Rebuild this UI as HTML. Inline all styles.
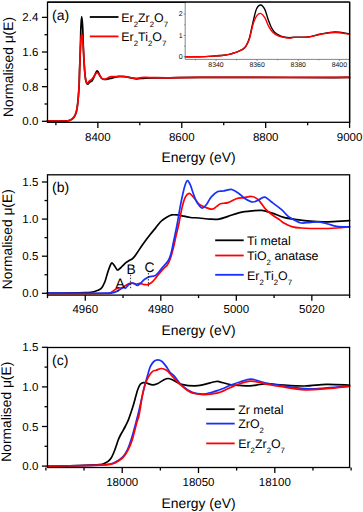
<!DOCTYPE html><html><head><meta charset="utf-8"><style>html,body{margin:0;padding:0;background:#fff;}svg{display:block;text-rendering:geometricPrecision;}</style></head><body>
<svg width="363" height="512" viewBox="0 0 363 512" font-family='"Liberation Sans", sans-serif' fill="#000">
<rect width="363" height="512" fill="#fff"/>
<line x1="41.90" y1="121.30" x2="47.50" y2="121.30" stroke="#000" stroke-width="1.3"/>
<line x1="41.90" y1="86.66" x2="47.50" y2="86.66" stroke="#000" stroke-width="1.3"/>
<line x1="41.90" y1="52.02" x2="47.50" y2="52.02" stroke="#000" stroke-width="1.3"/>
<line x1="41.90" y1="17.38" x2="47.50" y2="17.38" stroke="#000" stroke-width="1.3"/>
<line x1="44.50" y1="103.98" x2="47.50" y2="103.98" stroke="#000" stroke-width="1.3"/>
<line x1="44.50" y1="69.34" x2="47.50" y2="69.34" stroke="#000" stroke-width="1.3"/>
<line x1="44.50" y1="34.70" x2="47.50" y2="34.70" stroke="#000" stroke-width="1.3"/>
<line x1="97.85" y1="122.30" x2="97.85" y2="127.90" stroke="#000" stroke-width="1.3"/>
<line x1="181.77" y1="122.30" x2="181.77" y2="127.90" stroke="#000" stroke-width="1.3"/>
<line x1="265.68" y1="122.30" x2="265.68" y2="127.90" stroke="#000" stroke-width="1.3"/>
<line x1="349.60" y1="122.30" x2="349.60" y2="127.90" stroke="#000" stroke-width="1.3"/>
<line x1="55.89" y1="122.30" x2="55.89" y2="125.30" stroke="#000" stroke-width="1.3"/>
<line x1="139.81" y1="122.30" x2="139.81" y2="125.30" stroke="#000" stroke-width="1.3"/>
<line x1="223.73" y1="122.30" x2="223.73" y2="125.30" stroke="#000" stroke-width="1.3"/>
<line x1="307.64" y1="122.30" x2="307.64" y2="125.30" stroke="#000" stroke-width="1.3"/>
<text x="38.3" y="125.30" text-anchor="end" font-size="11.5">0.0</text>
<text x="38.3" y="90.66" text-anchor="end" font-size="11.5">0.8</text>
<text x="38.3" y="56.02" text-anchor="end" font-size="11.5">1.6</text>
<text x="38.3" y="21.38" text-anchor="end" font-size="11.5">2.4</text>
<text x="97.85" y="140.50" text-anchor="middle" font-size="11.5">8400</text>
<text x="181.77" y="140.50" text-anchor="middle" font-size="11.5">8600</text>
<text x="265.68" y="140.50" text-anchor="middle" font-size="11.5">8800</text>
<text x="349.60" y="140.50" text-anchor="middle" font-size="11.5">9000</text>
<text x="198.55" y="162.30" text-anchor="middle" font-size="13.9">Energy (eV)</text>
<text transform="translate(13.20,67.00) rotate(-90)" text-anchor="middle" font-size="13.8">Normalised μ(E)</text>
<text x="52.0" y="19.80" font-size="14">(a)</text>
<path d="M47.30,121.00 C50.47,121.00 62.22,121.30 66.30,121.00 C70.38,120.70 70.32,120.18 71.80,119.20 C73.28,118.22 74.28,117.17 75.20,115.10 C76.12,113.03 76.67,111.40 77.30,106.80 C77.93,102.20 78.62,93.63 79.00,87.50 C79.38,81.37 79.38,76.08 79.60,70.00 C79.82,63.92 80.08,58.07 80.30,51.00 C80.52,43.93 80.67,33.33 80.90,27.60 C81.13,21.87 81.40,16.60 81.70,16.60 C82.00,16.60 82.40,21.87 82.70,27.60 C83.00,33.33 83.18,43.93 83.50,51.00 C83.82,58.07 84.22,65.08 84.60,70.00 C84.98,74.92 85.30,78.13 85.80,80.50 C86.30,82.87 86.93,83.95 87.60,84.20 C88.27,84.45 89.07,82.53 89.80,82.00 C90.53,81.47 91.30,81.83 92.00,81.00 C92.70,80.17 93.15,78.70 94.00,77.00 C94.85,75.30 96.13,71.05 97.10,70.80 C98.07,70.55 99.02,74.22 99.80,75.50 C100.58,76.78 101.10,77.83 101.80,78.50 C102.50,79.17 103.13,79.38 104.00,79.50 C104.87,79.62 105.83,79.40 107.00,79.20 C108.17,79.00 109.03,78.78 111.00,78.30 C112.97,77.82 116.30,76.55 118.80,76.30 C121.30,76.05 123.97,76.55 126.00,76.80 C128.03,77.05 129.22,77.47 131.00,77.80 C132.78,78.13 134.37,78.75 136.70,78.80 C139.03,78.85 141.95,78.27 145.00,78.10 C148.05,77.93 150.83,77.85 155.00,77.80 C159.17,77.75 162.50,77.87 170.00,77.80 C177.50,77.73 185.00,77.47 200.00,77.40 C215.00,77.33 238.33,77.37 260.00,77.40 C281.67,77.43 315.07,77.60 330.00,77.60 C344.93,77.60 346.33,77.43 349.60,77.40" fill="none" stroke="#000000" stroke-width="1.7" stroke-linejoin="round" stroke-linecap="round"/>
<path d="M47.30,121.00 C50.47,121.00 62.22,121.30 66.30,121.00 C70.38,120.70 70.32,120.18 71.80,119.20 C73.28,118.22 74.28,117.17 75.20,115.10 C76.12,113.03 76.67,111.40 77.30,106.80 C77.93,102.20 78.62,93.63 79.00,87.50 C79.38,81.37 79.38,76.08 79.60,70.00 C79.82,63.92 80.07,56.33 80.30,51.00 C80.53,45.67 80.77,40.83 81.00,38.00 C81.23,35.17 81.45,34.00 81.70,34.00 C81.95,34.00 82.20,35.17 82.50,38.00 C82.80,40.83 83.15,45.67 83.50,51.00 C83.85,56.33 84.25,65.33 84.60,70.00 C84.95,74.67 85.17,76.75 85.60,79.00 C86.03,81.25 86.60,83.13 87.20,83.50 C87.80,83.87 88.57,81.82 89.20,81.20 C89.83,80.58 90.45,80.23 91.00,79.80 C91.55,79.37 91.92,79.32 92.50,78.60 C93.08,77.88 93.75,76.50 94.50,75.50 C95.25,74.50 96.17,72.65 97.00,72.60 C97.83,72.55 98.75,74.30 99.50,75.20 C100.25,76.10 100.80,77.33 101.50,78.00 C102.20,78.67 102.87,79.10 103.70,79.20 C104.53,79.30 105.62,78.92 106.50,78.60 C107.38,78.28 108.22,77.62 109.00,77.30 C109.78,76.98 109.70,76.80 111.20,76.70 C112.70,76.60 115.82,76.70 118.00,76.70 C120.18,76.70 122.30,76.55 124.30,76.70 C126.30,76.85 128.17,77.32 130.00,77.60 C131.83,77.88 133.63,78.37 135.30,78.40 C136.97,78.43 138.38,77.97 140.00,77.80 C141.62,77.63 142.50,77.42 145.00,77.40 C147.50,77.38 150.83,77.63 155.00,77.70 C159.17,77.77 162.50,77.85 170.00,77.80 C177.50,77.75 185.00,77.47 200.00,77.40 C215.00,77.33 235.07,77.40 260.00,77.40 C284.93,77.40 334.67,77.40 349.60,77.40" fill="none" stroke="#ff0000" stroke-width="1.7" stroke-linejoin="round" stroke-linecap="round"/>
<rect x="47.50" y="2.20" width="302.10" height="120.10" fill="none" stroke="#000" stroke-width="1.3"/>
<line x1="89.8" y1="17" x2="118.5" y2="17" stroke="#000" stroke-width="1.8"/>
<line x1="89.8" y1="36.4" x2="118.5" y2="36.4" stroke="#ff0000" stroke-width="1.8"/>
<text x="121.3" y="21.5" font-size="12.4"><tspan dy="0">Er</tspan><tspan font-size="7.8" dy="5.0">2</tspan><tspan dy="-5.0">Zr</tspan><tspan font-size="7.8" dy="5.0">2</tspan><tspan dy="-5.0">O</tspan><tspan font-size="7.8" dy="5.0">7</tspan></text>
<text x="121.3" y="40.8" font-size="12.4"><tspan dy="0">Er</tspan><tspan font-size="7.8" dy="5.0">2</tspan><tspan dy="-5.0">Ti</tspan><tspan font-size="7.8" dy="5.0">2</tspan><tspan dy="-5.0">O</tspan><tspan font-size="7.8" dy="5.0">7</tspan></text>
<rect x="185.2" y="2.2" width="164.40000000000003" height="57.199999999999996" fill="#fff" stroke="none"/>
<line x1="183.7" y1="56.90" x2="185.2" y2="56.90" stroke="#555" stroke-width="0.7"/>
<text x="182.6" y="59.20" text-anchor="end" font-size="7.0" fill="#111">0</text>
<line x1="183.7" y1="35.50" x2="185.2" y2="35.50" stroke="#555" stroke-width="0.7"/>
<text x="182.6" y="37.80" text-anchor="end" font-size="7.0" fill="#111">1</text>
<line x1="183.7" y1="14.10" x2="185.2" y2="14.10" stroke="#555" stroke-width="0.7"/>
<text x="182.6" y="16.40" text-anchor="end" font-size="7.0" fill="#111">2</text>
<line x1="184.2" y1="46.20" x2="185.2" y2="46.20" stroke="#555" stroke-width="0.7"/>
<line x1="184.2" y1="24.80" x2="185.2" y2="24.80" stroke="#555" stroke-width="0.7"/>
<line x1="216.03" y1="59.4" x2="216.03" y2="60.9" stroke="#555" stroke-width="0.7"/>
<text x="216.03" y="67.00" text-anchor="middle" font-size="6.9" fill="#111">8340</text>
<line x1="257.12" y1="59.4" x2="257.12" y2="60.9" stroke="#555" stroke-width="0.7"/>
<text x="257.12" y="67.00" text-anchor="middle" font-size="6.9" fill="#111">8360</text>
<line x1="298.23" y1="59.4" x2="298.23" y2="60.9" stroke="#555" stroke-width="0.7"/>
<text x="298.23" y="67.00" text-anchor="middle" font-size="6.9" fill="#111">8380</text>
<line x1="339.33" y1="59.4" x2="339.33" y2="60.9" stroke="#555" stroke-width="0.7"/>
<text x="339.33" y="67.00" text-anchor="middle" font-size="6.9" fill="#111">8400</text>
<line x1="195.47" y1="59.4" x2="195.47" y2="60.4" stroke="#555" stroke-width="0.7"/>
<line x1="236.57" y1="59.4" x2="236.57" y2="60.4" stroke="#555" stroke-width="0.7"/>
<line x1="277.68" y1="59.4" x2="277.68" y2="60.4" stroke="#555" stroke-width="0.7"/>
<line x1="318.77" y1="59.4" x2="318.77" y2="60.4" stroke="#555" stroke-width="0.7"/>
<path d="M185.50,56.80 C187.72,56.78 194.30,56.82 198.80,56.70 C203.30,56.58 208.37,56.33 212.50,56.10 C216.63,55.87 220.60,55.65 223.60,55.30 C226.60,54.95 228.60,54.45 230.50,54.00 C232.40,53.55 233.50,53.13 235.00,52.60 C236.50,52.07 238.12,51.42 239.50,50.80 C240.88,50.18 242.18,49.77 243.30,48.90 C244.42,48.03 245.20,47.33 246.20,45.60 C247.20,43.87 248.42,41.27 249.30,38.50 C250.18,35.73 250.75,32.30 251.50,29.00 C252.25,25.70 252.95,22.07 253.80,18.70 C254.65,15.33 255.47,11.08 256.60,8.80 C257.73,6.52 259.23,4.90 260.60,5.00 C261.97,5.10 263.55,7.02 264.80,9.40 C266.05,11.78 267.00,16.28 268.10,19.30 C269.20,22.32 270.28,25.30 271.40,27.50 C272.52,29.70 273.32,31.12 274.80,32.50 C276.28,33.88 278.60,35.00 280.30,35.80 C282.00,36.60 283.38,36.98 285.00,37.30 C286.62,37.62 288.50,37.72 290.00,37.70 C291.50,37.68 290.95,37.32 294.00,37.20 C297.05,37.08 303.83,37.53 308.30,37.00 C312.77,36.47 316.33,34.83 320.80,34.00 C325.27,33.17 330.33,32.03 335.10,32.00 C339.87,31.97 347.02,33.50 349.40,33.80" fill="none" stroke="#000000" stroke-width="1.4" stroke-linejoin="round" stroke-linecap="round"/>
<path d="M185.50,56.80 C187.72,56.78 194.30,56.82 198.80,56.70 C203.30,56.58 208.37,56.33 212.50,56.10 C216.63,55.87 220.60,55.65 223.60,55.30 C226.60,54.95 228.60,54.45 230.50,54.00 C232.40,53.55 233.50,53.13 235.00,52.60 C236.50,52.07 238.12,51.42 239.50,50.80 C240.88,50.18 242.18,49.77 243.30,48.90 C244.42,48.03 245.18,47.23 246.20,45.60 C247.22,43.97 248.50,41.70 249.40,39.10 C250.30,36.50 250.87,32.85 251.60,30.00 C252.33,27.15 252.88,24.43 253.80,22.00 C254.72,19.57 255.97,16.83 257.10,15.40 C258.23,13.97 259.32,13.03 260.60,13.40 C261.88,13.77 263.45,15.43 264.80,17.60 C266.15,19.77 267.42,24.00 268.70,26.40 C269.98,28.80 270.93,30.43 272.50,32.00 C274.07,33.57 276.02,34.88 278.10,35.80 C280.18,36.72 283.02,37.12 285.00,37.50 C286.98,37.88 288.50,38.12 290.00,38.10 C291.50,38.08 290.95,37.58 294.00,37.40 C297.05,37.22 303.83,37.52 308.30,37.00 C312.77,36.48 316.33,35.05 320.80,34.30 C325.27,33.55 330.33,32.50 335.10,32.50 C339.87,32.50 347.02,34.00 349.40,34.30" fill="none" stroke="#ff0000" stroke-width="1.4" stroke-linejoin="round" stroke-linecap="round"/>
<line x1="185.2" y1="2.2" x2="185.2" y2="59.4" stroke="#666" stroke-width="0.8"/>
<line x1="185.2" y1="59.4" x2="349.6" y2="59.4" stroke="#666" stroke-width="0.8"/>
<line x1="47.5" y1="2.2" x2="349.6" y2="2.2" stroke="#000" stroke-width="1.3"/>
<line x1="349.6" y1="2.2" x2="349.6" y2="122.3" stroke="#000" stroke-width="1.3"/>
<line x1="41.90" y1="293.30" x2="47.50" y2="293.30" stroke="#000" stroke-width="1.3"/>
<line x1="41.90" y1="256.20" x2="47.50" y2="256.20" stroke="#000" stroke-width="1.3"/>
<line x1="41.90" y1="219.10" x2="47.50" y2="219.10" stroke="#000" stroke-width="1.3"/>
<line x1="41.90" y1="182.00" x2="47.50" y2="182.00" stroke="#000" stroke-width="1.3"/>
<line x1="44.50" y1="274.75" x2="47.50" y2="274.75" stroke="#000" stroke-width="1.3"/>
<line x1="44.50" y1="237.65" x2="47.50" y2="237.65" stroke="#000" stroke-width="1.3"/>
<line x1="44.50" y1="200.55" x2="47.50" y2="200.55" stroke="#000" stroke-width="1.3"/>
<line x1="85.26" y1="295.10" x2="85.26" y2="300.70" stroke="#000" stroke-width="1.3"/>
<line x1="160.79" y1="295.10" x2="160.79" y2="300.70" stroke="#000" stroke-width="1.3"/>
<line x1="236.31" y1="295.10" x2="236.31" y2="300.70" stroke="#000" stroke-width="1.3"/>
<line x1="311.84" y1="295.10" x2="311.84" y2="300.70" stroke="#000" stroke-width="1.3"/>
<line x1="47.50" y1="295.10" x2="47.50" y2="298.10" stroke="#000" stroke-width="1.3"/>
<line x1="123.03" y1="295.10" x2="123.03" y2="298.10" stroke="#000" stroke-width="1.3"/>
<line x1="198.55" y1="295.10" x2="198.55" y2="298.10" stroke="#000" stroke-width="1.3"/>
<line x1="274.07" y1="295.10" x2="274.07" y2="298.10" stroke="#000" stroke-width="1.3"/>
<line x1="349.60" y1="295.10" x2="349.60" y2="298.10" stroke="#000" stroke-width="1.3"/>
<text x="38.3" y="297.30" text-anchor="end" font-size="11.5">0.0</text>
<text x="38.3" y="260.20" text-anchor="end" font-size="11.5">0.5</text>
<text x="38.3" y="223.10" text-anchor="end" font-size="11.5">1.0</text>
<text x="38.3" y="186.00" text-anchor="end" font-size="11.5">1.5</text>
<text x="85.26" y="313.30" text-anchor="middle" font-size="11.5">4960</text>
<text x="160.79" y="313.30" text-anchor="middle" font-size="11.5">4980</text>
<text x="236.31" y="313.30" text-anchor="middle" font-size="11.5">5000</text>
<text x="311.84" y="313.30" text-anchor="middle" font-size="11.5">5020</text>
<text x="198.55" y="335.10" text-anchor="middle" font-size="13.9">Energy (eV)</text>
<text transform="translate(12.40,239.25) rotate(-90)" text-anchor="middle" font-size="13.8">Normalised μ(E)</text>
<text x="52.0" y="192.40" font-size="14">(b)</text>
<path d="M47.30,293.20 C53.68,293.10 77.62,292.92 85.60,292.60 C93.58,292.28 92.63,291.95 95.20,291.30 C97.77,290.65 99.40,290.25 101.00,288.70 C102.60,287.15 103.68,284.72 104.80,282.00 C105.92,279.28 106.73,275.30 107.70,272.40 C108.67,269.50 109.85,266.17 110.60,264.60 C111.35,263.03 111.55,262.80 112.20,263.00 C112.85,263.20 113.67,264.65 114.50,265.80 C115.33,266.95 116.37,269.40 117.20,269.90 C118.03,270.40 118.70,269.37 119.50,268.80 C120.30,268.23 120.88,267.57 122.00,266.50 C123.12,265.43 124.93,263.43 126.20,262.40 C127.47,261.37 128.45,261.00 129.60,260.30 C130.75,259.60 131.83,259.47 133.10,258.20 C134.37,256.93 135.60,254.98 137.20,252.70 C138.80,250.42 140.57,247.48 142.70,244.50 C144.83,241.52 147.90,237.48 150.00,234.80 C152.10,232.12 153.50,230.62 155.30,228.40 C157.10,226.18 158.97,223.33 160.80,221.50 C162.63,219.67 164.47,218.50 166.30,217.40 C168.13,216.30 169.90,215.30 171.80,214.90 C173.70,214.50 175.67,214.78 177.70,215.00 C179.73,215.22 181.88,215.78 184.00,216.20 C186.12,216.62 187.90,217.20 190.40,217.50 C192.90,217.80 195.73,217.73 199.00,218.00 C202.27,218.27 206.68,218.92 210.00,219.10 C213.32,219.28 215.90,219.55 218.90,219.10 C221.90,218.65 224.55,217.48 228.00,216.40 C231.45,215.32 235.45,213.53 239.60,212.60 C243.75,211.67 249.22,211.17 252.90,210.80 C256.58,210.43 258.77,210.10 261.70,210.40 C264.63,210.70 268.28,211.98 270.50,212.60 C272.72,213.22 272.78,213.30 275.00,214.10 C277.22,214.90 280.13,216.48 283.80,217.40 C287.47,218.32 292.60,218.97 297.00,219.60 C301.40,220.23 305.78,220.82 310.20,221.20 C314.62,221.58 319.08,221.87 323.50,221.90 C327.92,221.93 332.35,221.60 336.70,221.40 C341.05,221.20 347.45,220.82 349.60,220.70" fill="none" stroke="#000000" stroke-width="1.7" stroke-linejoin="round" stroke-linecap="round"/>
<path d="M47.50,293.70 C57.08,293.67 94.32,293.77 105.00,293.50 C115.68,293.23 109.95,292.75 111.60,292.10 C113.25,291.45 113.80,290.30 114.90,289.60 C116.00,288.90 117.10,288.18 118.20,287.90 C119.30,287.62 120.25,288.30 121.50,287.90 C122.75,287.50 124.32,286.27 125.70,285.50 C127.08,284.73 128.57,283.67 129.80,283.30 C131.03,282.93 132.00,283.13 133.10,283.30 C134.20,283.47 135.30,284.30 136.40,284.30 C137.50,284.30 138.32,283.25 139.70,283.30 C141.08,283.35 143.23,284.42 144.70,284.60 C146.17,284.78 147.13,284.95 148.50,284.40 C149.87,283.85 151.53,282.60 152.90,281.30 C154.27,280.00 155.08,278.55 156.70,276.60 C158.32,274.65 160.83,271.55 162.60,269.60 C164.37,267.65 166.03,266.67 167.30,264.90 C168.57,263.13 169.22,261.73 170.20,259.00 C171.18,256.27 172.22,252.40 173.20,248.50 C174.18,244.60 175.13,239.82 176.10,235.60 C177.07,231.38 178.00,227.90 179.00,223.20 C180.00,218.50 181.05,211.73 182.10,207.40 C183.15,203.07 184.13,199.53 185.30,197.20 C186.47,194.87 187.93,193.62 189.10,193.40 C190.27,193.18 191.23,194.85 192.30,195.90 C193.37,196.95 194.38,198.32 195.50,199.70 C196.62,201.08 197.50,202.98 199.00,204.20 C200.50,205.42 202.30,206.17 204.50,207.00 C206.70,207.83 210.17,209.30 212.20,209.20 C214.23,209.10 215.32,207.32 216.70,206.40 C218.08,205.48 218.62,204.33 220.50,203.70 C222.38,203.07 225.37,203.43 228.00,202.60 C230.63,201.77 233.62,199.53 236.30,198.70 C238.98,197.87 241.52,197.97 244.10,197.60 C246.68,197.23 249.42,196.13 251.80,196.50 C254.18,196.87 256.02,197.60 258.40,199.80 C260.78,202.00 263.72,207.13 266.10,209.70 C268.48,212.27 270.38,213.47 272.70,215.20 C275.02,216.93 278.15,218.80 280.00,220.10 C281.85,221.40 281.70,221.87 283.80,223.00 C285.90,224.13 289.67,226.07 292.60,226.90 C295.53,227.73 296.98,227.73 301.40,228.00 C305.82,228.27 313.22,228.50 319.10,228.50 C324.98,228.50 331.62,228.30 336.70,228.00 C341.78,227.70 347.45,226.92 349.60,226.70" fill="none" stroke="#ff0000" stroke-width="1.7" stroke-linejoin="round" stroke-linecap="round"/>
<path d="M47.50,293.10 C57.08,293.12 93.77,293.37 105.00,293.20 C116.23,293.03 112.42,292.70 114.90,292.10 C117.38,291.50 118.52,290.35 119.90,289.60 C121.28,288.85 122.23,287.88 123.20,287.60 C124.17,287.32 124.60,288.53 125.70,287.90 C126.80,287.27 128.43,284.57 129.80,283.80 C131.17,283.03 132.67,283.02 133.90,283.30 C135.13,283.58 136.10,285.50 137.20,285.50 C138.30,285.50 139.25,284.33 140.50,283.30 C141.75,282.27 143.17,280.42 144.70,279.30 C146.23,278.18 147.88,277.25 149.70,276.60 C151.52,275.95 153.45,276.97 155.60,275.40 C157.75,273.83 160.45,269.73 162.60,267.20 C164.75,264.67 167.03,262.73 168.50,260.20 C169.97,257.67 170.50,255.37 171.40,252.00 C172.30,248.63 172.95,244.58 173.90,240.00 C174.85,235.42 176.05,230.05 177.10,224.50 C178.15,218.95 179.25,211.78 180.20,206.70 C181.15,201.62 181.95,197.70 182.80,194.00 C183.65,190.30 184.50,186.72 185.30,184.50 C186.10,182.28 186.75,180.58 187.60,180.70 C188.45,180.82 189.60,183.48 190.40,185.20 C191.20,186.92 191.52,188.57 192.40,191.00 C193.28,193.43 194.60,197.42 195.70,199.80 C196.80,202.18 197.90,203.92 199.00,205.30 C200.10,206.68 201.02,208.28 202.30,208.10 C203.58,207.92 205.23,206.03 206.70,204.20 C208.17,202.37 209.25,199.20 211.10,197.10 C212.95,195.00 215.77,192.62 217.80,191.60 C219.83,190.58 221.60,191.28 223.30,191.00 C225.00,190.72 226.57,190.15 228.00,189.90 C229.43,189.65 230.15,188.95 231.90,189.50 C233.65,190.05 236.28,191.67 238.50,193.20 C240.72,194.73 242.80,197.23 245.20,198.70 C247.60,200.17 250.52,201.88 252.90,202.00 C255.28,202.12 257.48,200.20 259.50,199.40 C261.52,198.60 262.98,196.77 265.00,197.20 C267.02,197.63 268.83,199.92 271.60,202.00 C274.37,204.08 278.83,207.32 281.60,209.70 C284.37,212.08 286.00,214.53 288.20,216.30 C290.40,218.07 292.60,219.18 294.80,220.30 C297.00,221.42 298.83,222.67 301.40,223.00 C303.97,223.33 307.25,222.48 310.20,222.30 C313.15,222.12 316.15,221.62 319.10,221.90 C322.05,222.18 324.97,223.27 327.90,224.00 C330.83,224.73 333.08,225.82 336.70,226.30 C340.32,226.78 347.45,226.80 349.60,226.90" fill="none" stroke="#1530ff" stroke-width="1.7" stroke-linejoin="round" stroke-linecap="round"/>
<rect x="47.50" y="174.80" width="302.10" height="120.30" fill="none" stroke="#000" stroke-width="1.3"/>
<line x1="118.2" y1="287" x2="118.2" y2="293" stroke="#000" stroke-width="0.8" stroke-dasharray="1.5,1.5"/>
<line x1="130.6" y1="274.7" x2="130.6" y2="289.6" stroke="#000" stroke-width="0.8" stroke-dasharray="1.5,1.5"/>
<line x1="148.4" y1="273" x2="148.4" y2="288" stroke="#000" stroke-width="0.8" stroke-dasharray="1.5,1.5"/>
<text x="120.0" y="287.5" text-anchor="middle" font-size="13.8">A</text>
<text x="131.2" y="274.4" text-anchor="middle" font-size="13.8">B</text>
<text x="149.5" y="271.9" text-anchor="middle" font-size="13.8">C</text>
<line x1="215.2" y1="240.3" x2="243.7" y2="240.3" stroke="#000000" stroke-width="1.8"/>
<line x1="215.2" y1="255.5" x2="243.7" y2="255.5" stroke="#ff0000" stroke-width="1.8"/>
<line x1="215.2" y1="274.8" x2="243.7" y2="274.8" stroke="#1530ff" stroke-width="1.8"/>
<text x="247.1" y="244.9" font-size="12.4">Ti metal</text>
<text x="247.1" y="260.2" font-size="12.4">TiO<tspan font-size="7.8" dy="5.0">2</tspan><tspan dy="-5.0"> anatase</tspan></text>
<text x="247.1" y="280.0" font-size="12.4"><tspan dy="0">Er</tspan><tspan font-size="7.8" dy="5.0">2</tspan><tspan dy="-5.0">Ti</tspan><tspan font-size="7.8" dy="5.0">2</tspan><tspan dy="-5.0">O</tspan><tspan font-size="7.8" dy="5.0">7</tspan></text>
<line x1="41.90" y1="466.10" x2="47.50" y2="466.10" stroke="#000" stroke-width="1.3"/>
<line x1="41.90" y1="426.50" x2="47.50" y2="426.50" stroke="#000" stroke-width="1.3"/>
<line x1="41.90" y1="386.90" x2="47.50" y2="386.90" stroke="#000" stroke-width="1.3"/>
<line x1="41.90" y1="347.30" x2="47.50" y2="347.30" stroke="#000" stroke-width="1.3"/>
<line x1="44.50" y1="446.30" x2="47.50" y2="446.30" stroke="#000" stroke-width="1.3"/>
<line x1="44.50" y1="406.70" x2="47.50" y2="406.70" stroke="#000" stroke-width="1.3"/>
<line x1="44.50" y1="367.10" x2="47.50" y2="367.10" stroke="#000" stroke-width="1.3"/>
<line x1="122.20" y1="467.50" x2="122.20" y2="473.10" stroke="#000" stroke-width="1.3"/>
<line x1="198.50" y1="467.50" x2="198.50" y2="473.10" stroke="#000" stroke-width="1.3"/>
<line x1="274.80" y1="467.50" x2="274.80" y2="473.10" stroke="#000" stroke-width="1.3"/>
<line x1="45.90" y1="467.50" x2="45.90" y2="470.50" stroke="#000" stroke-width="1.3"/>
<line x1="84.05" y1="467.50" x2="84.05" y2="470.50" stroke="#000" stroke-width="1.3"/>
<line x1="160.35" y1="467.50" x2="160.35" y2="470.50" stroke="#000" stroke-width="1.3"/>
<line x1="236.65" y1="467.50" x2="236.65" y2="470.50" stroke="#000" stroke-width="1.3"/>
<line x1="312.95" y1="467.50" x2="312.95" y2="470.50" stroke="#000" stroke-width="1.3"/>
<line x1="351.10" y1="467.50" x2="351.10" y2="470.50" stroke="#000" stroke-width="1.3"/>
<text x="38.3" y="470.10" text-anchor="end" font-size="11.5">0.0</text>
<text x="38.3" y="430.50" text-anchor="end" font-size="11.5">0.5</text>
<text x="38.3" y="390.90" text-anchor="end" font-size="11.5">1.0</text>
<text x="38.3" y="351.30" text-anchor="end" font-size="11.5">1.5</text>
<text x="122.20" y="485.70" text-anchor="middle" font-size="11.5">18000</text>
<text x="198.50" y="485.70" text-anchor="middle" font-size="11.5">18050</text>
<text x="274.80" y="485.70" text-anchor="middle" font-size="11.5">18100</text>
<text x="198.55" y="507.50" text-anchor="middle" font-size="13.9">Energy (eV)</text>
<text transform="translate(10.90,411.75) rotate(-90)" text-anchor="middle" font-size="13.8">Normalised μ(E)</text>
<text x="52.0" y="365.10" font-size="14">(c)</text>
<path d="M47.30,466.30 C51.08,466.22 62.05,466.03 70.00,465.80 C77.95,465.57 89.65,465.15 95.00,464.90 C100.35,464.65 100.27,464.68 102.10,464.30 C103.93,463.92 105.02,463.08 106.00,462.60 C106.98,462.12 107.17,462.12 108.00,461.40 C108.83,460.68 110.07,459.70 111.00,458.30 C111.93,456.90 112.77,454.97 113.60,453.00 C114.43,451.03 115.23,448.67 116.00,446.50 C116.77,444.33 117.45,441.92 118.20,440.00 C118.95,438.08 119.72,436.53 120.50,435.00 C121.28,433.47 122.07,432.30 122.90,430.80 C123.73,429.30 124.57,427.87 125.50,426.00 C126.43,424.13 127.53,422.02 128.50,419.60 C129.47,417.18 130.38,414.28 131.30,411.50 C132.22,408.72 133.22,405.57 134.00,402.90 C134.78,400.23 135.37,397.73 136.00,395.50 C136.63,393.27 137.08,391.37 137.80,389.50 C138.52,387.63 139.40,385.45 140.30,384.30 C141.20,383.15 142.12,382.78 143.20,382.60 C144.28,382.42 145.23,382.82 146.80,383.20 C148.37,383.58 150.85,384.82 152.60,384.90 C154.35,384.98 155.53,384.48 157.30,383.70 C159.07,382.92 161.42,381.07 163.20,380.20 C164.98,379.33 166.32,378.50 168.00,378.50 C169.68,378.50 171.05,379.23 173.30,380.20 C175.55,381.17 177.38,383.38 181.50,384.30 C185.62,385.22 192.25,386.17 198.00,385.70 C203.75,385.23 212.00,382.03 216.00,381.50 C220.00,380.97 219.68,382.00 222.00,382.50 C224.32,383.00 226.93,384.02 229.90,384.50 C232.87,384.98 236.48,385.17 239.80,385.40 C243.12,385.63 246.48,386.05 249.80,385.90 C253.12,385.75 256.68,384.87 259.70,384.50 C262.72,384.13 264.52,383.65 267.90,383.70 C271.28,383.75 273.88,384.42 280.00,384.80 C286.12,385.18 296.83,386.08 304.60,386.00 C312.37,385.92 319.10,384.45 326.60,384.30 C334.10,384.15 345.77,384.97 349.60,385.10" fill="none" stroke="#000000" stroke-width="1.7" stroke-linejoin="round" stroke-linecap="round"/>
<path d="M47.30,466.40 C51.08,466.32 61.22,466.12 70.00,465.90 C78.78,465.68 93.97,465.30 100.00,465.10 C106.03,464.90 104.03,465.02 106.20,464.70 C108.37,464.38 111.15,463.82 113.00,463.20 C114.85,462.58 115.65,462.07 117.30,461.00 C118.95,459.93 121.20,458.72 122.90,456.80 C124.60,454.88 126.07,452.55 127.50,449.50 C128.93,446.45 130.02,443.28 131.50,438.50 C132.98,433.72 135.13,425.55 136.40,420.80 C137.67,416.05 138.20,413.80 139.10,410.00 C140.00,406.20 140.90,401.92 141.80,398.00 C142.70,394.08 143.57,390.15 144.50,386.50 C145.43,382.85 146.43,379.40 147.40,376.10 C148.37,372.80 149.23,369.13 150.30,366.70 C151.37,364.27 152.53,362.63 153.80,361.50 C155.07,360.37 156.53,359.90 157.90,359.90 C159.27,359.90 160.73,360.55 162.00,361.50 C163.27,362.45 164.50,364.33 165.50,365.60 C166.50,366.87 167.25,367.97 168.00,369.10 C168.75,370.23 168.95,371.23 170.00,372.40 C171.05,373.57 172.38,373.98 174.30,376.10 C176.22,378.22 178.52,382.42 181.50,385.10 C184.48,387.78 188.62,390.72 192.20,392.20 C195.78,393.68 199.72,394.00 203.00,394.00 C206.28,394.00 209.23,392.87 211.90,392.20 C214.57,391.53 216.82,390.73 219.00,390.00 C221.18,389.27 223.18,388.57 225.00,387.80 C226.82,387.03 227.43,386.37 229.90,385.40 C232.37,384.43 236.35,383.03 239.80,382.00 C243.25,380.97 247.28,379.33 250.60,379.20 C253.92,379.07 256.82,380.45 259.70,381.20 C262.58,381.95 264.52,383.00 267.90,383.70 C271.28,384.40 273.88,384.57 280.00,385.40 C286.12,386.23 296.83,388.28 304.60,388.70 C312.37,389.12 319.10,388.35 326.60,387.90 C334.10,387.45 345.77,386.32 349.60,386.00" fill="none" stroke="#1530ff" stroke-width="1.7" stroke-linejoin="round" stroke-linecap="round"/>
<path d="M47.30,466.40 C51.08,466.32 61.22,466.12 70.00,465.90 C78.78,465.68 93.97,465.28 100.00,465.10 C106.03,464.92 104.03,465.05 106.20,464.80 C108.37,464.55 111.15,464.13 113.00,463.60 C114.85,463.07 115.65,462.58 117.30,461.60 C118.95,460.62 121.20,459.43 122.90,457.70 C124.60,455.97 125.95,454.15 127.50,451.20 C129.05,448.25 130.65,444.78 132.20,440.00 C133.75,435.22 135.65,426.67 136.80,422.50 C137.95,418.33 138.12,419.80 139.10,415.00 C140.08,410.20 141.62,399.00 142.70,393.70 C143.78,388.40 144.63,386.03 145.60,383.20 C146.57,380.37 147.33,378.67 148.50,376.70 C149.67,374.73 151.32,372.48 152.60,371.40 C153.88,370.32 154.73,370.68 156.20,370.20 C157.67,369.72 159.85,368.58 161.40,368.50 C162.95,368.42 164.40,369.22 165.50,369.70 C166.60,370.18 166.70,370.12 168.00,371.40 C169.30,372.68 171.05,375.02 173.30,377.40 C175.55,379.78 178.65,383.23 181.50,385.70 C184.35,388.17 186.82,390.72 190.40,392.20 C193.98,393.68 199.12,394.35 203.00,394.60 C206.88,394.85 210.87,394.10 213.70,393.70 C216.53,393.30 217.30,393.18 220.00,392.20 C222.70,391.22 226.60,389.22 229.90,387.80 C233.20,386.38 236.35,384.80 239.80,383.70 C243.25,382.60 247.28,381.40 250.60,381.20 C253.92,381.00 256.82,381.95 259.70,382.50 C262.58,383.05 264.52,383.83 267.90,384.50 C271.28,385.17 273.88,385.62 280.00,386.50 C286.12,387.38 296.83,389.43 304.60,389.80 C312.37,390.17 319.10,389.25 326.60,388.70 C334.10,388.15 345.77,386.87 349.60,386.50" fill="none" stroke="#ff0000" stroke-width="1.7" stroke-linejoin="round" stroke-linecap="round"/>
<rect x="47.50" y="347.50" width="302.10" height="120.00" fill="none" stroke="#000" stroke-width="1.3"/>
<line x1="206.2" y1="409.2" x2="234.7" y2="409.2" stroke="#000000" stroke-width="1.8"/>
<line x1="206.2" y1="423.6" x2="234.7" y2="423.6" stroke="#1530ff" stroke-width="1.8"/>
<line x1="206.2" y1="443.4" x2="234.7" y2="443.4" stroke="#ff0000" stroke-width="1.8"/>
<text x="238.2" y="413.6" font-size="12.4">Zr metal</text>
<text x="238.2" y="427.8" font-size="12.4">ZrO<tspan font-size="7.8" dy="5.0">2</tspan></text>
<text x="238.2" y="447.6" font-size="12.4"><tspan dy="0">Er</tspan><tspan font-size="7.8" dy="5.0">2</tspan><tspan dy="-5.0">Zr</tspan><tspan font-size="7.8" dy="5.0">2</tspan><tspan dy="-5.0">O</tspan><tspan font-size="7.8" dy="5.0">7</tspan></text>
</svg></body></html>
